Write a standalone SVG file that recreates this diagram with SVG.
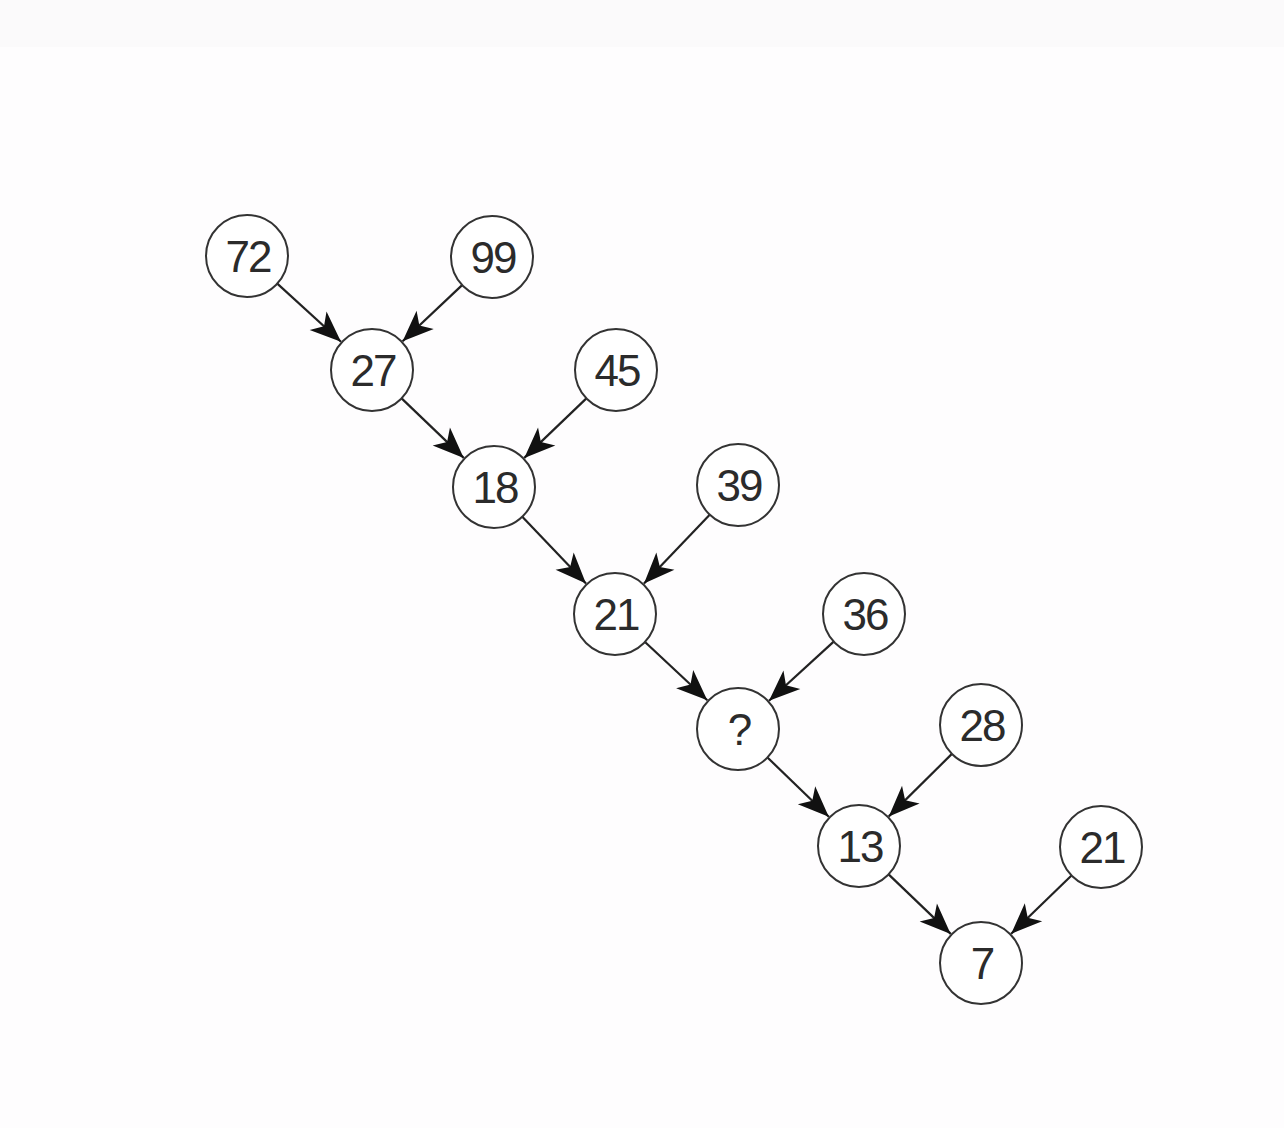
<svg xmlns="http://www.w3.org/2000/svg" width="1284" height="1128" viewBox="0 0 1284 1128">
  <defs>
    <style>
      .node circle { fill: #ffffff; stroke: #333333; stroke-width: 2; }
      .node text { font-family: "Liberation Sans", Arial, sans-serif; font-size: 44px; fill: #2b2b2b; text-anchor: middle; letter-spacing: -2px; }
      .edge { stroke: #222222; stroke-width: 2.2; fill: none; marker-end: url(#arrow); }
    </style>
    <marker id="arrow" markerUnits="userSpaceOnUse" markerWidth="36" markerHeight="30" refX="0" refY="0" viewBox="-34 -15 36 30" orient="auto">
      <path d="M0,0 L-31,-12.5 L-23,0 L-31,12.5 Z" fill="#111111"/>
    </marker>
  </defs>
  <rect x="0" y="0" width="1284" height="1128" fill="#fefdfe"/>
  <rect x="0" y="0" width="1284" height="47" fill="#fbfafb"/>

  <g id="connectors">
    <line class="edge" x1="277.3" y1="283.6" x2="341.0" y2="341.7"/>
    <line class="edge" x1="462.1" y1="285.1" x2="402.6" y2="341.2"/>
    <line class="edge" x1="401.6" y1="398.4" x2="463.7" y2="457.9"/>
    <line class="edge" x1="586.4" y1="398.4" x2="524.3" y2="457.9"/>
    <line class="edge" x1="522.3" y1="516.7" x2="586.0" y2="583.6"/>
    <line class="edge" x1="709.7" y1="514.7" x2="644.0" y2="583.6"/>
    <line class="edge" x1="645.0" y1="642.0" x2="707.3" y2="700.3"/>
    <line class="edge" x1="833.7" y1="641.6" x2="769.0" y2="700.7"/>
    <line class="edge" x1="767.5" y1="757.5" x2="828.8" y2="816.8"/>
    <line class="edge" x1="951.9" y1="753.9" x2="888.8" y2="816.4"/>
    <line class="edge" x1="888.6" y1="874.4" x2="950.7" y2="933.9"/>
    <line class="edge" x1="1071.5" y1="875.5" x2="1011.2" y2="933.8"/>
  </g>

  <g id="n72" class="node"><circle cx="247" cy="256" r="41"/><text x="248" y="272">72</text></g>
  <g id="n99" class="node"><circle cx="492" cy="257" r="41"/><text x="493" y="273">99</text></g>
  <g id="n27" class="node"><circle cx="372" cy="370" r="41"/><text x="373" y="386">27</text></g>
  <g id="n45" class="node"><circle cx="616" cy="370" r="41"/><text x="617" y="386">45</text></g>
  <g id="n18" class="node"><circle cx="494" cy="487" r="41"/><text x="495" y="503">18</text></g>
  <g id="n39" class="node"><circle cx="738" cy="485" r="41"/><text x="739" y="501">39</text></g>
  <g id="n21a" class="node"><circle cx="615" cy="614" r="41"/><text x="616" y="630">21</text></g>
  <g id="n36" class="node"><circle cx="864" cy="614" r="41"/><text x="865" y="630">36</text></g>
  <g id="nq" class="node"><circle cx="738" cy="729" r="41"/><text x="739" y="745">?</text></g>
  <g id="n28" class="node"><circle cx="981" cy="725" r="41"/><text x="982" y="741">28</text></g>
  <g id="n13" class="node"><circle cx="859" cy="846" r="41"/><text x="860" y="862">13</text></g>
  <g id="n21b" class="node"><circle cx="1101" cy="847" r="41"/><text x="1102" y="863">21</text></g>
  <g id="n7" class="node"><circle cx="981" cy="963" r="41"/><text x="982" y="979">7</text></g>
</svg>
